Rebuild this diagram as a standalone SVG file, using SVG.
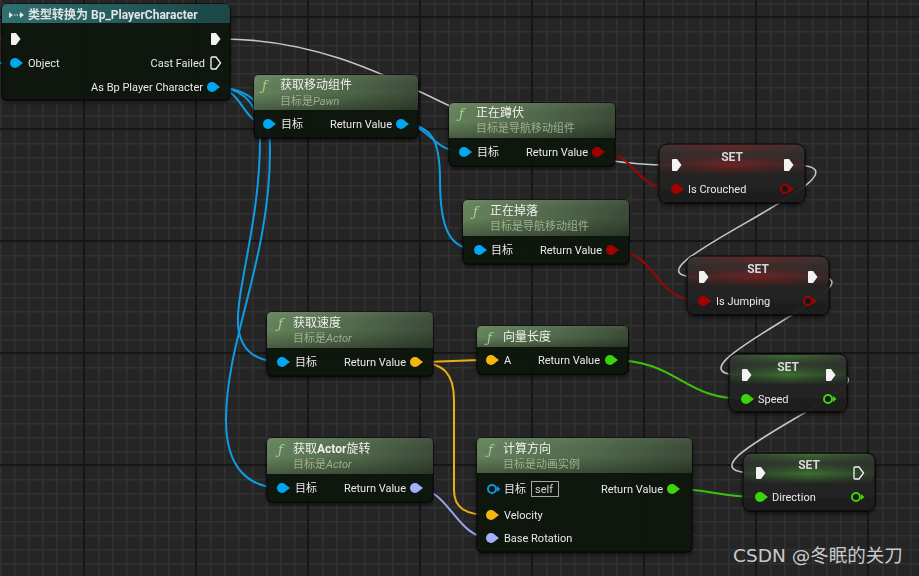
<svg xmlns="http://www.w3.org/2000/svg" xmlns:xlink="http://www.w3.org/1999/xlink" width="919" height="576" viewBox="0 0 919 576">
<style>
.t{font-family:Roboto,"Noto Sans CJK SC",sans-serif;font-size:11px;fill:#e8e8e8}
.ttl{font-size:12px;fill:#f0f0f0}
.sub{font-size:11px;fill:#9fae8f}
.fn{font-family:"DejaVu Serif",serif;font-style:italic;font-size:13px;fill:#9fd58a}
.set{font-family:Roboto,sans-serif;font-weight:bold;font-size:12px;fill:#d6d6d6;text-anchor:middle}
.body{fill:#111311;fill-opacity:.94;stroke:#050505;stroke-width:1}
.sbody{fill:url(#setBody);fill-opacity:.9;stroke:#080808;stroke-width:1}
.fh{fill:url(#fnH)}
.fhv{fill:url(#fnV)}
.w{fill:none;stroke-width:2}
.ex{fill:none;stroke:#c6c6c6;stroke-width:1.6}
.blue{stroke:#0c9de3}
.red{stroke:#9a0606}
.yel{stroke:#e9b012}
.lav{stroke:#98a6ee}
.grn{stroke:#3cc20c}
.end{text-anchor:end}
</style>
<defs>
<pattern id="grid" x="83" y="16" width="112" height="112" patternUnits="userSpaceOnUse">
<rect width="112" height="112" fill="#252525"/>
<g fill="#323232">
<rect x="15" y="0" width="1.4" height="112"/><rect x="29" y="0" width="1.4" height="112"/><rect x="43" y="0" width="1.4" height="112"/><rect x="57" y="0" width="1.4" height="112"/><rect x="71" y="0" width="1.4" height="112"/><rect x="85" y="0" width="1.4" height="112"/><rect x="99" y="0" width="1.4" height="112"/>
<rect y="15" x="0" height="1.4" width="112"/><rect y="29" x="0" height="1.4" width="112"/><rect y="43" x="0" height="1.4" width="112"/><rect y="57" x="0" height="1.4" width="112"/><rect y="71" x="0" height="1.4" width="112"/><rect y="85" x="0" height="1.4" width="112"/><rect y="99" x="0" height="1.4" width="112"/>
</g>
<rect x="0" y="0" width="2" height="112" fill="#161616"/>
<rect x="0" y="0" width="112" height="2" fill="#161616"/>
</pattern>
<linearGradient id="fnH" x1="0" y1="0" x2="1" y2="0">
<stop offset="0" stop-color="#66835d"/>
<stop offset="0.55" stop-color="#50684a"/>
<stop offset="1" stop-color="#3b4b37"/>
</linearGradient>
<linearGradient id="fnV" x1="0" y1="0" x2="0" y2="1">
<stop offset="0" stop-color="#ffffff" stop-opacity="0.06"/>
<stop offset="0.5" stop-color="#000000" stop-opacity="0"/>
<stop offset="1" stop-color="#000000" stop-opacity="0.3"/>
</linearGradient>
<linearGradient id="castH" x1="0" y1="0" x2="1" y2="0">
<stop offset="0" stop-color="#2f7070"/>
<stop offset="1" stop-color="#1c4646"/>
</linearGradient>
<linearGradient id="setBody" x1="0" y1="0" x2="0" y2="1">
<stop offset="0" stop-color="#363636"/>
<stop offset="0.45" stop-color="#262626"/>
<stop offset="1" stop-color="#1d1d1d"/>
</linearGradient>
<linearGradient id="redV" x1="0" y1="0" x2="0" y2="1">
<stop offset="0" stop-color="#7a2020" stop-opacity="0.85"/>
<stop offset="0.3" stop-color="#4a2a2a" stop-opacity="0.45"/>
<stop offset="0.65" stop-color="#7e2222" stop-opacity="0.85"/>
<stop offset="1" stop-color="#7e2222" stop-opacity="0"/>
</linearGradient>
<linearGradient id="greenV" x1="0" y1="0" x2="0" y2="1">
<stop offset="0" stop-color="#3f7a30" stop-opacity="0.85"/>
<stop offset="0.3" stop-color="#34502e" stop-opacity="0.45"/>
<stop offset="0.65" stop-color="#3e7e30" stop-opacity="0.85"/>
<stop offset="1" stop-color="#3e7e30" stop-opacity="0"/>
</linearGradient>
<linearGradient id="hfade" x1="0" y1="0" x2="1" y2="0">
<stop offset="0" stop-color="#fff" stop-opacity="0.25"/>
<stop offset="0.5" stop-color="#fff" stop-opacity="1"/>
<stop offset="1" stop-color="#fff" stop-opacity="0.25"/>
</linearGradient>
<mask id="mfade" maskContentUnits="objectBoundingBox">
<rect x="0" y="0" width="1" height="1" fill="url(#hfade)"/>
</mask>
<filter id="sh" x="-10%" y="-10%" width="120%" height="130%">
<feDropShadow dx="0" dy="2" stdDeviation="2" flood-color="#000" flood-opacity="0.65"/>
</filter>
<g id="dp"><circle cx="0" cy="0" r="5"/><path d="M4,-3 L8,0 L4,3 Z"/></g>
<g id="hp"><circle cx="0" cy="0" r="4" fill="#141414" stroke-width="2"/><path d="M5,-3 L8.5,0 L5,3 Z" stroke="none"/></g>
<path id="ex" d="M-4,-5 Q-4,-6 -3,-6 H1 L5.5,0 L1,6 H-3 Q-4,6 -4,5 Z"/>
</defs>

<rect x="0" y="0" width="919" height="576" fill="url(#grid)"/>

<g id="connectors">
<path d="M0,39 H10" fill="none" stroke="#6b3020" stroke-width="3"/>
<path class="w blue" d="M0,63 H12"/>
<path class="ex" d="M222,39 C 400,39 480,165 670,165"/>
<path class="ex" d="M792,165 C 900,165 600,277 699,277"/>
<path class="ex" d="M816,277 C 895,277 650,375 742,375"/>
<path class="ex" d="M834,375 C 910,375 655,473 756,473"/>
<path class="w blue" d="M212,87 C 245,87 240,124 268,124"/>
<path class="w blue" d="M212,87 C 245,87 260,105 260,140 C 260,220 236,290 238,325 C 240,350 255,362 282,362"/>
<path class="w blue" d="M212,87 C 255,87 270,110 270,150 C 270,260 226,340 226,420 C 226,470 250,488 282,488"/>
<path class="w blue" d="M401,124 C 430,124 432,152 464,152"/>
<path class="w blue" d="M401,124 C 432,124 440,140 440,180 C 440,230 450,250 479,250"/>
<path class="w red" d="M597,152 C 640,152 630,189 676,189"/>
<path class="w red" d="M611,250 C 660,250 650,301 703,301"/>
<path class="w yel" d="M415,362 C 450,362 455,360 491,360"/>
<path class="w yel" d="M415,362 C 445,362 454,375 454,400 V490 C 454,508 465,515 491,515"/>
<path class="w lav" d="M415,488 C 450,488 455,538 491,538"/>
<path class="w grn" d="M610,360 C 680,360 680,399 746,399"/>
<path class="w grn" d="M672,489 C 715,489 715,497 760,497"/>
</g>

<g id="n-cast" filter="url(#sh)">
<rect class="body" x="2" y="4" width="228" height="96" rx="5"/>
<path fill="url(#castH)" d="M2,23 V9 Q2,4 7,4 H225 Q230,4 230,9 V23 Z"/>
<path fill="#e8e8e8" d="M9,12 L13,15 L9,18 Z"/>
<path d="M14,15 H20" stroke="#e8e8e8" stroke-width="1.2" stroke-dasharray="1.5,1"/>
<path fill="#e8e8e8" d="M20,12 L24,15 L20,18 Z"/>
<text class="t" x="28" y="19" style="font-size:12px;font-weight:bold;fill:#e4e4e4">类型转换为 Bp_PlayerCharacter</text>
<use href="#ex" x="15" y="39" fill="#f2f2f2"/>
<use href="#ex" x="215" y="39" fill="#f2f2f2"/>
<use href="#dp" x="15" y="63" fill="#00a7f0"/>
<text class="t" x="28" y="67">Object</text>
<text class="t end" x="205" y="67">Cast Failed</text>
<use href="#ex" x="215" y="63" fill="none" stroke="#f2f2f2" stroke-width="1.3"/>
<text class="t end" x="203" y="91">As Bp Player Character</text>
<use href="#dp" x="212" y="87" fill="#00a7f0"/>
</g>

<g id="n-getmove" filter="url(#sh)">
<rect class="body" x="254" y="75" width="164" height="63" rx="5"/>
<path class="fh" d="M254,110 V80 Q254,75 259,75 H413 Q418,75 418,80 V110 Z"/>
<path class="fhv" d="M254,110 V80 Q254,75 259,75 H413 Q418,75 418,80 V110 Z"/>
<text class="fn" x="262" y="90">ƒ</text>
<text class="t ttl" x="280" y="89">获取移动组件</text>
<text class="t sub" x="280" y="105">目标是<tspan font-style="italic">Pawn</tspan></text>
<use href="#dp" x="268" y="124" fill="#00a7f0"/>
<text class="t" x="281" y="128">目标</text>
<text class="t end" x="392" y="128">Return Value</text>
<use href="#dp" x="401" y="124" fill="#00a7f0"/>
</g>

<g id="n-crouching" filter="url(#sh)">
<rect class="body" x="449" y="103" width="166" height="63" rx="5"/>
<path class="fh" d="M449,138 V108 Q449,103 454,103 H610 Q615,103 615,108 V138 Z"/>
<path class="fhv" d="M449,138 V108 Q449,103 454,103 H610 Q615,103 615,108 V138 Z"/>
<text class="fn" x="459" y="118">ƒ</text>
<text class="t ttl" x="476" y="117">正在蹲伏</text>
<text class="t sub" x="476" y="132">目标是导航移动组件</text>
<use href="#dp" x="464" y="152" fill="#00a7f0"/>
<text class="t" x="477" y="156">目标</text>
<text class="t end" x="588" y="156">Return Value</text>
<use href="#dp" x="597" y="152" fill="#a30303"/>
</g>

<g id="n-falling" filter="url(#sh)">
<rect class="body" x="463" y="200" width="166" height="64" rx="5"/>
<path class="fh" d="M463,236 V205 Q463,200 468,200 H624 Q629,200 629,205 V236 Z"/>
<path class="fhv" d="M463,236 V205 Q463,200 468,200 H624 Q629,200 629,205 V236 Z"/>
<text class="fn" x="473" y="216">ƒ</text>
<text class="t ttl" x="490" y="215">正在掉落</text>
<text class="t sub" x="490" y="230">目标是导航移动组件</text>
<use href="#dp" x="479" y="250" fill="#00a7f0"/>
<text class="t" x="491" y="254">目标</text>
<text class="t end" x="602" y="254">Return Value</text>
<use href="#dp" x="611" y="250" fill="#a30303"/>
</g>

<g id="n-getvel" filter="url(#sh)">
<rect class="body" x="267" y="312" width="166" height="64" rx="5"/>
<path class="fh" d="M267,348 V317 Q267,312 272,312 H428 Q433,312 433,317 V348 Z"/>
<path class="fhv" d="M267,348 V317 Q267,312 272,312 H428 Q433,312 433,317 V348 Z"/>
<text class="fn" x="278" y="328">ƒ</text>
<text class="t ttl" x="293" y="327">获取速度</text>
<text class="t sub" x="293" y="342">目标是<tspan font-style="italic">Actor</tspan></text>
<use href="#dp" x="282" y="362" fill="#00a7f0"/>
<text class="t" x="295" y="366">目标</text>
<text class="t end" x="406" y="366">Return Value</text>
<use href="#dp" x="415" y="362" fill="#f5b70c"/>
</g>

<g id="n-vlen" filter="url(#sh)">
<rect class="body" x="477" y="326" width="151" height="48" rx="5"/>
<path class="fh" d="M477,347 V331 Q477,326 482,326 H623 Q628,326 628,331 V347 Z"/>
<path class="fhv" d="M477,347 V331 Q477,326 482,326 H623 Q628,326 628,331 V347 Z"/>
<text class="fn" x="487" y="342">ƒ</text>
<text class="t ttl" x="503" y="341">向量长度</text>
<use href="#dp" x="491" y="360" fill="#f5b70c"/>
<text class="t" x="504" y="364">A</text>
<text class="t end" x="600" y="364">Return Value</text>
<use href="#dp" x="610" y="360" fill="#3ad408"/>
</g>

<g id="n-getrot" filter="url(#sh)">
<rect class="body" x="267" y="438" width="166" height="64" rx="5"/>
<path class="fh" d="M267,474 V443 Q267,438 272,438 H428 Q433,438 433,443 V474 Z"/>
<path class="fhv" d="M267,474 V443 Q267,438 272,438 H428 Q433,438 433,443 V474 Z"/>
<text class="fn" x="278" y="454">ƒ</text>
<text class="t ttl" x="293" y="453">获取<tspan font-weight="bold">Actor</tspan>旋转</text>
<text class="t sub" x="293" y="468">目标是<tspan font-style="italic">Actor</tspan></text>
<use href="#dp" x="282" y="488" fill="#00a7f0"/>
<text class="t" x="295" y="492">目标</text>
<text class="t end" x="406" y="492">Return Value</text>
<use href="#dp" x="415" y="488" fill="#a3b1fa"/>
</g>

<g id="n-calcdir" filter="url(#sh)">
<rect class="body" x="477" y="438" width="215" height="114" rx="5"/>
<path class="fh" d="M477,473 V443 Q477,438 482,438 H687 Q692,438 692,443 V473 Z"/>
<path class="fhv" d="M477,473 V443 Q477,438 482,438 H687 Q692,438 692,443 V473 Z"/>
<text class="fn" x="488" y="454">ƒ</text>
<text class="t ttl" x="503" y="453">计算方向</text>
<text class="t sub" x="503" y="468">目标是动画实例</text>
<use href="#hp" x="492" y="489" stroke="#0a95de" fill="#0a95de"/>
<text class="t" x="504" y="493">目标</text>
<rect x="531.5" y="481.5" width="27" height="15" fill="none" stroke="#a8a8a8" stroke-width="1"/>
<text class="t" x="535" y="493" style="fill:#cfcfcf">self</text>
<text class="t end" x="663" y="493">Return Value</text>
<use href="#dp" x="672" y="489" fill="#3ad408"/>
<use href="#dp" x="491" y="515" fill="#f5b70c"/>
<text class="t" x="504" y="519">Velocity</text>
<use href="#dp" x="491" y="538" fill="#a3b1fa"/>
<text class="t" x="504" y="542">Base Rotation</text>
</g>

<g id="n-set-crouched" filter="url(#sh)">
<rect class="sbody" x="659" y="144" width="146" height="59" rx="8"/>
<rect x="660" y="145" width="144" height="30" rx="7" fill="url(#redV)" mask="url(#mfade)"/>
<text class="set" x="732" y="161">SET</text>
<use href="#ex" x="676" y="165" fill="#f2f2f2"/>
<use href="#ex" x="788" y="165" fill="#f2f2f2"/>
<use href="#dp" x="676" y="189" fill="#a30303"/>
<text class="t" x="688" y="193">Is Crouched</text>
<use href="#hp" x="785" y="189" stroke="#a30303" fill="#a30303"/>
</g>

<g id="n-set-jumping" filter="url(#sh)">
<rect class="sbody" x="687" y="256" width="142" height="59" rx="8"/>
<rect x="688" y="257" width="140" height="30" rx="7" fill="url(#redV)" mask="url(#mfade)"/>
<text class="set" x="758" y="273">SET</text>
<use href="#ex" x="703" y="277" fill="#f2f2f2"/>
<use href="#ex" x="812" y="277" fill="#f2f2f2"/>
<use href="#dp" x="703" y="301" fill="#a30303"/>
<text class="t" x="716" y="305">Is Jumping</text>
<use href="#hp" x="808" y="301" stroke="#a30303" fill="#a30303"/>
</g>

<g id="n-set-speed" filter="url(#sh)">
<rect class="sbody" x="729" y="354" width="118" height="58" rx="8"/>
<rect x="730" y="355" width="116" height="30" rx="7" fill="url(#greenV)" mask="url(#mfade)"/>
<text class="set" x="788" y="371">SET</text>
<use href="#ex" x="746" y="375" fill="#f2f2f2"/>
<use href="#ex" x="830" y="375" fill="#f2f2f2"/>
<use href="#dp" x="746" y="399" fill="#3ad408"/>
<text class="t" x="758" y="403">Speed</text>
<use href="#hp" x="828" y="399" stroke="#3ad408" fill="#3ad408"/>
</g>

<g id="n-set-direction" filter="url(#sh)">
<rect class="sbody" x="743" y="453" width="132" height="58" rx="8"/>
<rect x="744" y="454" width="130" height="30" rx="7" fill="url(#greenV)" mask="url(#mfade)"/>
<text class="set" x="809" y="469">SET</text>
<use href="#ex" x="760" y="473" fill="#f2f2f2"/>
<use href="#ex" x="858" y="473" fill="none" stroke="#f2f2f2" stroke-width="1.3"/>
<use href="#dp" x="760" y="497" fill="#3ad408"/>
<text class="t" x="772" y="501">Direction</text>
<use href="#hp" x="856" y="497" stroke="#3ad408" fill="#3ad408"/>
</g>

<text x="733" y="562" style="font-family:'DejaVu Sans','Noto Sans CJK SC',sans-serif;font-size:18.5px;fill:#e2e2e2;fill-opacity:0.88">CSDN @冬眠的关刀</text>
</svg>
